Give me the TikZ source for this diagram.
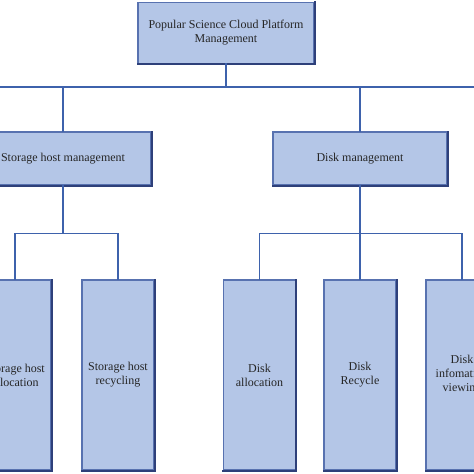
\documentclass[tikz,border=0pt]{standalone}
\usepackage{fontspec}
\setmainfont{Liberation Serif}
\usetikzlibrary{positioning}

\definecolor{boxfill}{RGB}{180,198,231}
\definecolor{boxedge}{RGB}{88,114,176}
\definecolor{boxshade}{RGB}{46,64,122}
\definecolor{linkblue}{RGB}{62,98,172}

\begin{document}
\begin{tikzpicture}
% Style
[
    x=1pt, y=-1pt, line cap=rect,
    unit box/.style={draw=boxedge, fill=boxfill, line width=1.2pt, align=center,
        inner sep=0pt, font=\fontsize{12}{14}\selectfont, text=black!85},
    shade edge/.style={draw=boxshade, line width=1.8pt},
    link/.style={draw=linkblue, line width=1.4pt}
]

% Define: Params
\newcommand{\leafwidth}{72pt}
\newcommand{\leafheight}{190pt}

%================================== Prepare ==================================
\newcommand{\drawunit}[6]{
    % Draw: box with its dark edge
    \node[unit box, minimum width=#4, minimum height=#5] (#1) at (#2,#3) {#6};
    \draw[shade edge] (#1.north east) -- (#1.south east) -- (#1.south west);
}

%=================================== Start ===================================
\useasboundingbox (0,0) rectangle (474,474);
\begin{scope}
    \clip (0,0) rectangle (474,474);

    % Draw: Root
    \drawunit{root}{226}{33}{176pt}{61pt}{Popular Science Cloud Platform\\Management}

    % Draw: Branches
    \drawunit{storage}{63}{158.5}{176pt}{53pt}{Storage host management}
    \drawunit{disk}{360}{158.5}{174pt}{53pt}{Disk management}

    % Draw: Leaves
    \foreach \name / \x / \txt in {hostalloc/15/Storage host\\allocation,
                                   hostrecycle/118/Storage host\\recycling,
                                   diskalloc/259.5/Disk\\allocation,
                                   diskrecycle/360/Disk\\Recycle,
                                   diskview/462/Disk\\infomation\\viewing} {
        \drawunit{\name}{\x}{375}{\leafwidth}{\leafheight}{\txt}
    }

    % Draw: Top bus
    \coordinate (busL) at (0,87);
    \coordinate (busR) at (474,87);
    \draw[link] (busL) -- (busR);
    \draw[link] (root.south) -- (root.south |- busL);
    \draw[link] (storage.north) -- (storage.north |- busL);
    \draw[link] (disk.north) -- (disk.north |- busL);

    % Draw: Storage host bus
    \draw[link] (storage.south) -- ++(0,48) coordinate (hostbus);
    \draw[link] (hostalloc.north) |- (hostbus) -| (hostrecycle.north);

    % Draw: Disk bus
    \draw[link] (disk.south) -- ++(0,48) coordinate (diskbus);
    \draw[link] (diskalloc.north) |- (diskbus) -| (diskview.north);
    \draw[link] (diskbus) -- (diskrecycle.north);
\end{scope}
%==================================== END ====================================

\end{tikzpicture}
\end{document}
